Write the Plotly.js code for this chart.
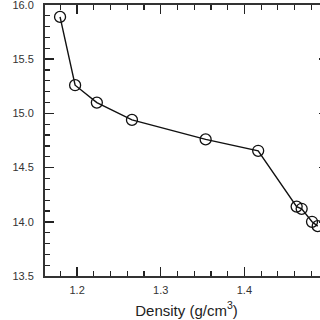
<!DOCTYPE html>
<html>
<head>
<meta charset="utf-8">
<script src="https://cdn.plot.ly/plotly-3.0.1.min.js"></script>
<style>
html,body{margin:0;padding:0;width:320px;height:320px;overflow:hidden;background:#fff;}
#chart{position:absolute;left:-30px;top:0;width:360px;height:320px;}
</style>
</head>
<body>
<div id="chart"></div>
<script>
const density = [1.1796, 1.1976, 1.2236, 1.2656, 1.3537, 1.4165, 1.4625, 1.4685, 1.4809, 1.4877];
const values = [15.89, 15.26, 15.10, 14.94, 14.76, 14.655, 14.14, 14.12, 14.00, 13.96];
const xTitle = 'Density (g/cm<sup>3</sup>)';
const yTitle = 'Energy (kJ/mol)';

const axisCommon = {
  showline: true, linecolor: '#333', linewidth: 2, mirror: 'ticks',
  ticks: 'inside', ticklen: 9, tickwidth: 1.5, tickcolor: '#222',
  showgrid: false, zeroline: false, ticklabeloverflow: 'allow',
  tickfont: {family: 'Liberation Sans, Arial, sans-serif', size: 11, color: '#333'}
};

const trace = {
  x: density, y: values, type: 'scatter', mode: 'lines+markers',
  line: {color: '#111', width: 1.4},
  marker: {symbol: 'circle-open', size: 11, color: '#111', line: {width: 1.3, color: '#111'}},
  showlegend: false, cliponaxis: false
};

const layout = {
  width: 360, height: 320,
  margin: {l: 75, r: 2, t: 5, b: 44},
  paper_bgcolor: '#fff', plot_bgcolor: '#fff',
  xaxis: Object.assign({}, axisCommon, {
    range: [1.1616, 1.5], tickvals: [1.2, 1.3, 1.4, 1.5], ticktext: ['1.2','1.3','1.4','1.5'],
    minor: {dtick: 0.02, tick0: 1.2, ticks: 'inside', ticklen: 5, tickwidth: 1.2, tickcolor: '#222'},
    ticklabelstandoff: 3,
    title: {text: xTitle, standoff: 10, font: {family: 'Liberation Sans, Arial, sans-serif', size: 15, color: '#222'}}
  }),
  yaxis: Object.assign({}, axisCommon, {
    range: [13.5, 16.0], tickvals: [13.5, 14.0, 14.5, 15.0, 15.5, 16.0], ticktext: ['13.5','14.0','14.5','15.0','15.5','16.0'],
    minor: {dtick: 0.1, tick0: 13.5, ticks: 'inside', ticklen: 5, tickwidth: 1.2, tickcolor: '#222'},
    ticklabelstandoff: 7,
    title: {text: yTitle, standoff: 12, font: {family: 'Liberation Sans, Arial, sans-serif', size: 15, color: '#222'}}
  })
};

Plotly.newPlot('chart', [trace], layout, {displayModeBar: false, staticPlot: true});
</script>
</body>
</html>
